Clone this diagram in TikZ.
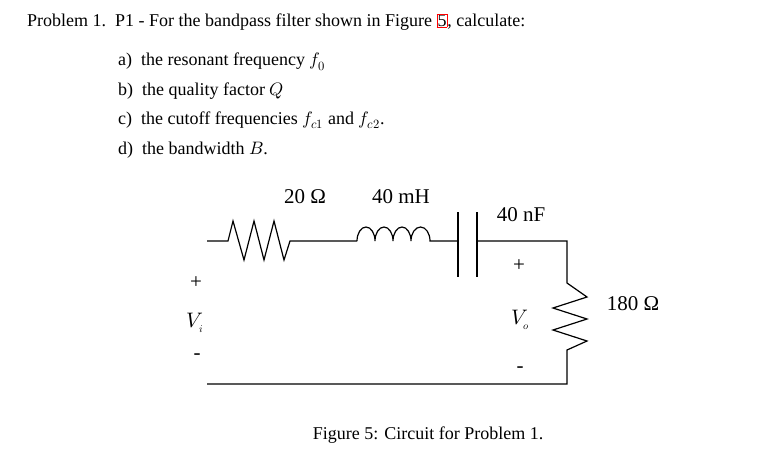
\documentclass[tikz,border=0pt]{standalone}
\usepackage{fontspec}
\setmainfont{Liberation Serif}
\usepackage{unicode-math}
\setmathfont{Latin Modern Math}
\begin{document}
\begin{tikzpicture}[x=1pt,y=-1pt,
  txt/.style={inner sep=0pt,font=\fontsize{18}{20}\selectfont},
  lab/.style={inner sep=0pt,font=\fontsize{21}{23}\selectfont},
  wire/.style={line width=1.2pt}]
\useasboundingbox (0,0) rectangle (775,466);
\node[txt,anchor=west] (title) at (27,22) {Problem 1.\ \ P1 - For the bandpass filter shown in Figure {\setlength{\fboxsep}{0.5pt}\fcolorbox{red}{white}{5}}, calculate:};
\node[txt,anchor=west] (a) at (118,62) {a)\ \ the resonant frequency $f_0$};
\node[txt,anchor=west] (b) at (118,91) {b)\ \ the quality factor $Q$};
\node[txt,anchor=west] (c) at (118,120) {c)\ \ the cutoff frequencies $f_{c1}$ and $f_{c2}$.};
\node[txt,anchor=west] (d) at (118,150) {d)\ \ the bandwidth $B$.};
% circuit
\coordinate (L) at (207,241);
\coordinate (R1a) at (228,241);
\coordinate (R1b) at (295,241);
\coordinate (Ia) at (357,241);
\coordinate (Ib) at (430,241);
\coordinate (C1) at (458,241);
\coordinate (C2) at (477,241);
\coordinate (TR) at (567,241);
\coordinate (R2a) at (567,283);
\coordinate (R2b) at (567,350);
\coordinate (BR) at (567,384);
\coordinate (BL) at (207,384);
\draw[wire] (L) -- (R1a)
  -- (233,221) -- (244,260) -- (254,221) -- (264,260) -- (274,221) -- (284,260) -- (290,241) -- (R1b) -- (Ia);
\draw[wire] (Ia) arc[start angle=180,end angle=360,x radius=9,y radius=14] arc[start angle=180,end angle=360,x radius=9,y radius=14] arc[start angle=180,end angle=360,x radius=9,y radius=14] arc[start angle=180,end angle=360,x radius=9.5,y radius=14] -- (Ib) -- (C1);
\draw[wire] (458,212) -- (458,277);
\draw[wire] (477,212) -- (477,277);
\draw[wire] (C2) -- (TR) -- (R2a) -- (587,297) -- (553,308) -- (587,319) -- (553,330) -- (587,341) -- (R2b) -- (BR) -- (BL);
\node[lab] (l20) at (305,197) {20 Ω};
\node[lab] (l40m) at (401,197) {40 mH};
\node[lab] (l40n) at (521,215) {40 nF};
\node[lab] (l180) at (633,304) {180 Ω};
\node[lab] (pi) at (196,283) {+};
\node[lab] (vi) at (195,323) {$V_{\scriptscriptstyle i}$};
\node[lab] (mi) at (197,357) {-};
\node[lab] (po) at (519,266) {+};
\node[lab] (vo) at (520,320) {$V_{\scriptscriptstyle o}$};
\node[lab] (mo) at (520,370) {-};
\node[txt] (cap) at (428,435) {Figure 5: Circuit for Problem 1.};
\end{tikzpicture}
\end{document}
